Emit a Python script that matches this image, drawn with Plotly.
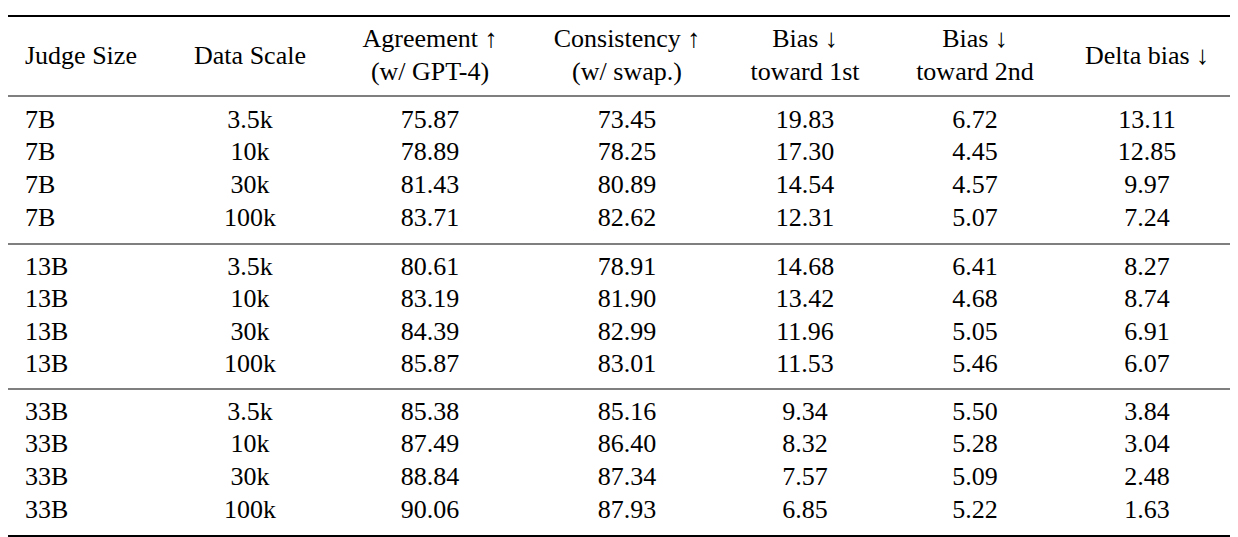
import plotly.graph_objects as go

headers = ["Judge Size", "Data Scale", "Agreement ↑<br>(w/ GPT-4)", "Consistency ↑<br>(w/ swap.)",
           "Bias ↓<br>toward 1st", "Bias ↓<br>toward 2nd", "Delta bias ↓"]
judge_size = ["7B"]*4 + ["13B"]*4 + ["33B"]*4
data_scale = ["3.5k", "10k", "30k", "100k"]*3
agreement = ["75.87","78.89","81.43","83.71","80.61","83.19","84.39","85.87","85.38","87.49","88.84","90.06"]
consistency = ["73.45","78.25","80.89","82.62","78.91","81.90","82.99","83.01","85.16","86.40","87.34","87.93"]
bias_1st = ["19.83","17.30","14.54","12.31","14.68","13.42","11.96","11.53","9.34","8.32","7.57","6.85"]
bias_2nd = ["6.72","4.45","4.57","5.07","6.41","4.68","5.05","5.46","5.50","5.28","5.09","5.22"]
delta_bias = ["13.11","12.85","9.97","7.24","8.27","8.74","6.91","6.07","3.84","3.04","2.48","1.63"]

columns = [judge_size, data_scale, agreement, consistency, bias_1st, bias_2nd, delta_bias]
col_x = [25, 250, 430, 627, 805, 975, 1147]
row_y = [120, 152, 185, 218, 267, 299, 332, 364, 412, 444, 477, 510]
header_y = 56
font = dict(family="Liberation Serif, Times New Roman, serif", size=26, color="black")

fig = go.Figure()
for i, col in enumerate(columns):
    pos = "middle right" if i == 0 else "middle center"
    fig.add_trace(go.Scatter(x=[col_x[i]]*len(col), y=row_y, text=col, mode="text",
                             textposition=pos, textfont=font, hoverinfo="skip", cliponaxis=False))
    fig.add_trace(go.Scatter(x=[col_x[i]], y=[header_y], text=[headers[i]], mode="text",
                             textposition=pos, textfont=font, hoverinfo="skip", cliponaxis=False))

rules = [(15, 2), (95, 1.2), (243, 1.2), (388, 1.2), (535, 2)]
for y, w in rules:
    fig.add_shape(type="line", x0=5, x1=1238, y0=y, y1=y, line=dict(color="black", width=w))

fig.update_layout(width=1238, height=537, margin=dict(l=0, r=0, t=0, b=0),
                  plot_bgcolor="white", paper_bgcolor="white", showlegend=False,
                  xaxis=dict(range=[8, 1246], visible=False, fixedrange=True),
                  yaxis=dict(range=[544, 7], visible=False, fixedrange=True))
fig.write_html("out.html")
